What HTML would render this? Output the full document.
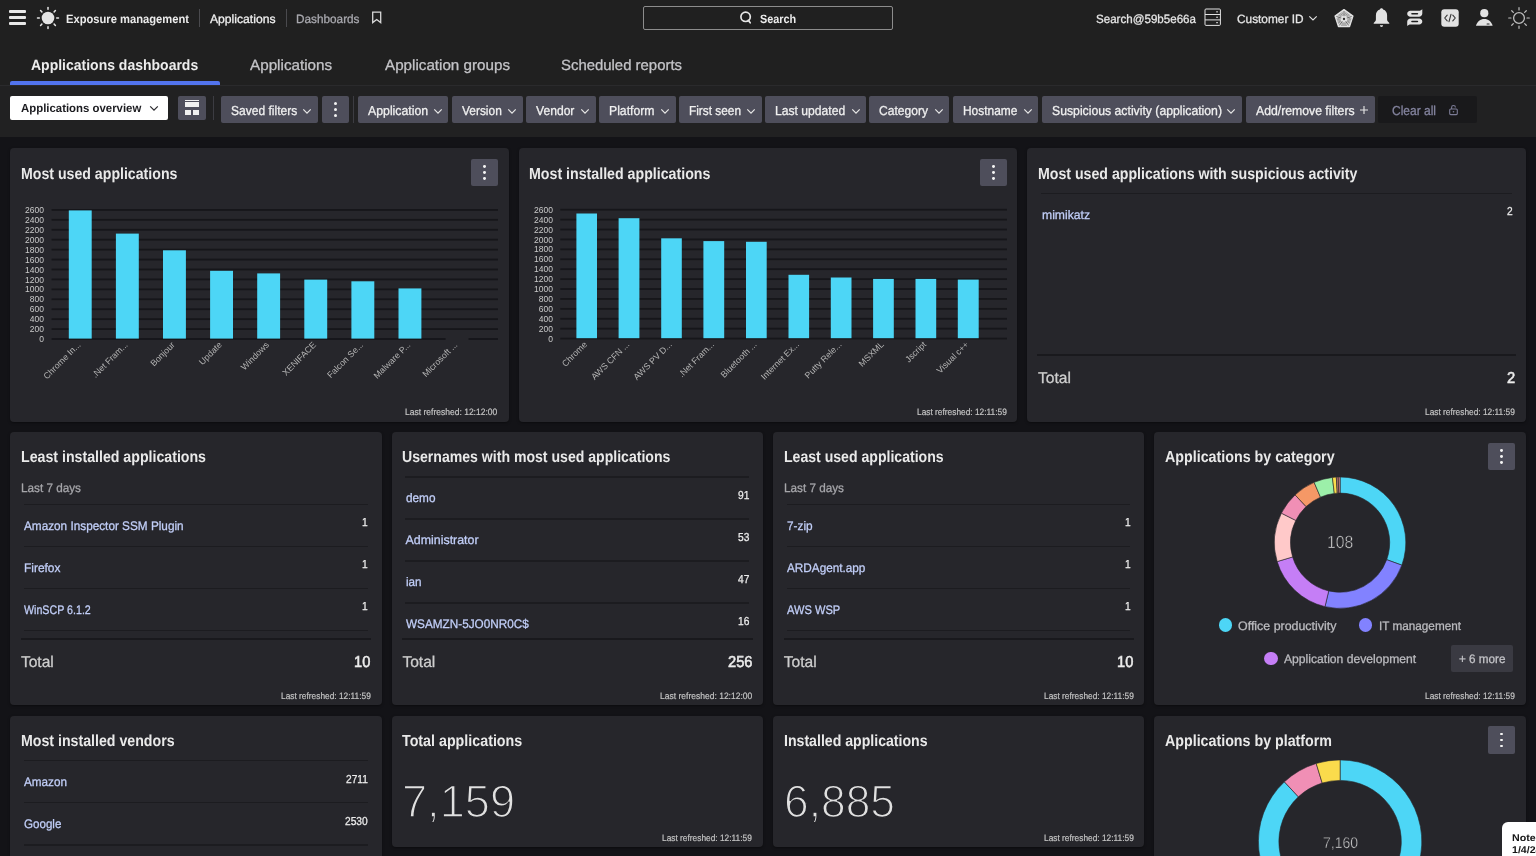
<!DOCTYPE html>
<html lang="en"><head><meta charset="utf-8"><title>Applications dashboards</title>
<style>html,body{margin:0;padding:0}body{width:1536px;height:856px;overflow:hidden;position:relative;background:#131317;font-family:"Liberation Sans", sans-serif;}#r{position:absolute;left:0;top:0;width:1536px;height:856px;overflow:hidden;will-change:transform}#r>div,#r>svg{position:absolute}.t{position:absolute;white-space:pre;line-height:1;transform-origin:0 0;text-rendering:geometricPrecision}</style></head>
<body><div id="r">
<div style="left:0px;top:0px;width:1536px;height:86px;background:#202020;"></div>
<div style="left:0px;top:85px;width:1536px;height:1px;background:#2a2a2c;"></div>
<div style="left:0px;top:86px;width:1536px;height:51.4px;background:#212122;"></div>
<div style="left:8.6px;top:10.2px;width:17.2px;height:3.1px;background:#e8e8e8;border-radius:1px;"></div>
<div style="left:8.6px;top:16.2px;width:17.2px;height:3.1px;background:#e8e8e8;border-radius:1px;"></div>
<div style="left:8.6px;top:22.3px;width:17.2px;height:3.1px;background:#e8e8e8;border-radius:1px;"></div>
<svg style="left:35.8px;top:6.3px" width="24" height="24" viewBox="0 0 24 24"><circle cx="12" cy="12" r="6.3" fill="#e4e4e4"/><g stroke="#e4e4e4" stroke-width="1.5" stroke-linecap="round"><line x1="20.70" y1="12.00" x2="22.50" y2="12.00"/><line x1="18.15" y1="18.15" x2="19.42" y2="19.42"/><line x1="12.00" y1="20.70" x2="12.00" y2="22.50"/><line x1="5.85" y1="18.15" x2="4.58" y2="19.42"/><line x1="3.30" y1="12.00" x2="1.50" y2="12.00"/><line x1="5.85" y1="5.85" x2="4.58" y2="4.58"/><line x1="12.00" y1="3.30" x2="12.00" y2="1.50"/><line x1="18.15" y1="5.85" x2="19.42" y2="4.58"/></g></svg>
<div style="left:198.8px;top:8.6px;width:1px;height:18.8px;background:#4a4a4e;"></div>
<div style="left:285.5px;top:8.6px;width:1px;height:18.8px;background:#4a4a4e;"></div>
<svg style="left:370.6px;top:11px" width="12" height="14" viewBox="0 0 12 14"><path d="M1.7 1.2h8v10.4L5.7 8.6l-4 3z" fill="none" stroke="#d8d8d8" stroke-width="1.3" stroke-linejoin="miter"/></svg>
<div style="left:643px;top:6px;width:248px;height:22px;border:1px solid #8c8c8c;border-radius:2px"></div>
<svg style="left:738px;top:9px" width="16" height="16" viewBox="0 0 16 16"><circle cx="7.6" cy="7.8" r="4.7" fill="none" stroke="#e6e6e6" stroke-width="1.7"/><path d="M10.3 11.2l1.9 2.6" stroke="#e6e6e6" stroke-width="1.7" stroke-linecap="round"/></svg>
<div style="left:10px;top:81px;width:209.5px;height:4px;background:#5274ee;border-radius:2px;border-radius:2px 2px 0 0;"></div>
<div style="left:10px;top:96px;width:158px;height:24px;background:#ffffff;border-radius:2px;"></div>
<svg style="left:149px;top:105px" width="10" height="7" viewBox="0 0 10 7"><path d="M1.2 1.4L5 5.2l3.8-3.8" fill="none" stroke="#2a2a2e" stroke-width="1.2"/></svg>
<div style="left:178px;top:96px;width:28px;height:24px;background:#4e4e5b;border-radius:2px;"></div>
<div style="left:185.1px;top:99.8px;width:14.1px;height:7.4px;background:#f0f0f0;"></div>
<div style="left:185.1px;top:101.3px;width:14.1px;height:0.8px;background:#4e4e5b;"></div>
<div style="left:185.1px;top:109.6px;width:5.9px;height:5.8px;background:#f0f0f0;"></div>
<div style="left:193.3px;top:109.6px;width:5.9px;height:5.8px;background:#f0f0f0;"></div>
<div style="left:213px;top:96px;width:1px;height:24px;background:#3c3c42;"></div>
<div style="left:353px;top:96px;width:1px;height:27px;background:#3c3c42;"></div>
<div style="left:221.3px;top:96px;width:96.5px;height:27.3px;background:#4e4e5b;border-radius:2px;"></div>
<svg style="left:302.3px;top:107.6px" width="10" height="7" viewBox="0 0 10 7"><path d="M1.3 1.4L5 5.1l3.7-3.7" fill="none" stroke="#e8e8e8" stroke-width="1.2"/></svg>
<div style="left:357.5px;top:96px;width:90.89999999999998px;height:27.3px;background:#4e4e5b;border-radius:2px;"></div>
<svg style="left:432.9px;top:107.6px" width="10" height="7" viewBox="0 0 10 7"><path d="M1.3 1.4L5 5.1l3.7-3.7" fill="none" stroke="#e8e8e8" stroke-width="1.2"/></svg>
<div style="left:452.2px;top:96px;width:70.59999999999997px;height:27.3px;background:#4e4e5b;border-radius:2px;"></div>
<svg style="left:507.29999999999995px;top:107.6px" width="10" height="7" viewBox="0 0 10 7"><path d="M1.3 1.4L5 5.1l3.7-3.7" fill="none" stroke="#e8e8e8" stroke-width="1.2"/></svg>
<div style="left:526.3px;top:96px;width:69.30000000000007px;height:27.3px;background:#4e4e5b;border-radius:2px;"></div>
<svg style="left:580.1px;top:107.6px" width="10" height="7" viewBox="0 0 10 7"><path d="M1.3 1.4L5 5.1l3.7-3.7" fill="none" stroke="#e8e8e8" stroke-width="1.2"/></svg>
<div style="left:599px;top:96px;width:76.60000000000002px;height:27.3px;background:#4e4e5b;border-radius:2px;"></div>
<svg style="left:660.1px;top:107.6px" width="10" height="7" viewBox="0 0 10 7"><path d="M1.3 1.4L5 5.1l3.7-3.7" fill="none" stroke="#e8e8e8" stroke-width="1.2"/></svg>
<div style="left:678.7px;top:96px;width:82.89999999999998px;height:27.3px;background:#4e4e5b;border-radius:2px;"></div>
<svg style="left:746.1px;top:107.6px" width="10" height="7" viewBox="0 0 10 7"><path d="M1.3 1.4L5 5.1l3.7-3.7" fill="none" stroke="#e8e8e8" stroke-width="1.2"/></svg>
<div style="left:765px;top:96px;width:101.20000000000005px;height:27.3px;background:#4e4e5b;border-radius:2px;"></div>
<svg style="left:850.7px;top:107.6px" width="10" height="7" viewBox="0 0 10 7"><path d="M1.3 1.4L5 5.1l3.7-3.7" fill="none" stroke="#e8e8e8" stroke-width="1.2"/></svg>
<div style="left:869.4px;top:96px;width:80.0px;height:27.3px;background:#4e4e5b;border-radius:2px;"></div>
<svg style="left:933.9px;top:107.6px" width="10" height="7" viewBox="0 0 10 7"><path d="M1.3 1.4L5 5.1l3.7-3.7" fill="none" stroke="#e8e8e8" stroke-width="1.2"/></svg>
<div style="left:952.8px;top:96px;width:85.20000000000005px;height:27.3px;background:#4e4e5b;border-radius:2px;"></div>
<svg style="left:1022.5px;top:107.6px" width="10" height="7" viewBox="0 0 10 7"><path d="M1.3 1.4L5 5.1l3.7-3.7" fill="none" stroke="#e8e8e8" stroke-width="1.2"/></svg>
<div style="left:1041.5px;top:96px;width:200.4000000000001px;height:27.3px;background:#4e4e5b;border-radius:2px;"></div>
<svg style="left:1226.4px;top:107.6px" width="10" height="7" viewBox="0 0 10 7"><path d="M1.3 1.4L5 5.1l3.7-3.7" fill="none" stroke="#e8e8e8" stroke-width="1.2"/></svg>
<div style="left:321.8px;top:96px;width:27.1px;height:27.3px;background:#4e4e5b;border-radius:2px;"></div>
<div style="left:333.6px;top:102.4px;width:3px;height:3px;background:#f2f2f2;border-radius:1.5px;"></div>
<div style="left:333.6px;top:108.3px;width:3px;height:3px;background:#f2f2f2;border-radius:1.5px;"></div>
<div style="left:333.6px;top:114.2px;width:3px;height:3px;background:#f2f2f2;border-radius:1.5px;"></div>
<div style="left:1245.6px;top:96px;width:129.1px;height:27.3px;background:#4e4e5b;border-radius:2px;"></div>
<svg style="left:1359px;top:104.5px" width="10" height="10" viewBox="0 0 10 10"><path d="M5 1v8M1 5h8" stroke="#e8e8e8" stroke-width="1.1"/></svg>
<div style="left:1377.8px;top:96px;width:99.7px;height:27.3px;background:#19191b;border-radius:2px;"></div>
<svg style="left:1448px;top:103.5px" width="11" height="12" viewBox="0 0 11 12"><rect x="1.7" y="5" width="7.6" height="5.6" rx="1" fill="none" stroke="#7c7c96" stroke-width="1.1"/><path d="M3.6 5V3.4a1.9 1.9 0 0 1 3.8 0" fill="none" stroke="#7c7c96" stroke-width="1.1"/><circle cx="5.5" cy="7.8" r=".8" fill="#7c7c96"/></svg>
<svg style="left:1203.5px;top:7.8px" width="18" height="19" viewBox="0 0 18 19" fill="none" stroke="#e2e2e2" stroke-width="1"><rect x="1" y="1" width="15.4" height="16.4" rx="1"/><path d="M1 6.5h15.4M1 11.9h15.4"/><g fill="#e2e2e2" stroke="none"><rect x="12.2" y="3.3" width="1.7" height="1.1"/><rect x="12.2" y="8.7" width="1.7" height="1.1"/><rect x="12.2" y="14.1" width="1.7" height="1.1"/></g></svg>
<svg style="left:1308px;top:15px" width="10" height="7" viewBox="0 0 10 7"><path d="M1.3 1.3L5 5l3.7-3.7" fill="none" stroke="#e2e2e2" stroke-width="1.1"/></svg>
<svg style="left:1332px;top:6.9px" width="24" height="24" viewBox="0 0 24 24"><polygon points="12.00,2.60 20.94,9.10 17.53,19.60 6.47,19.60 3.06,9.10" fill="#e2e2e2" stroke="#e2e2e2" stroke-width="1.3" stroke-linejoin="round"/><g stroke="#2a2a2a" stroke-linecap="round"><line x1="12.00" y1="9.10" x2="12.00" y2="4.40" stroke-width=".75" opacity=".85"/><line x1="12.97" y1="7.81" x2="15.69" y2="9.79" stroke-width="0.7" opacity="0.55"/><line x1="13.26" y1="6.54" x2="16.80" y2="9.12" stroke-width="0.75" opacity="0.6"/><line x1="13.55" y1="5.28" x2="17.91" y2="8.45" stroke-width="0.7" opacity="0.5"/><line x1="14.76" y1="11.10" x2="19.23" y2="9.65" stroke-width=".75" opacity=".85"/><line x1="16.28" y1="11.63" x2="15.25" y2="14.82" stroke-width="0.7" opacity="0.55"/><line x1="17.58" y1="11.51" x2="16.23" y2="15.67" stroke-width="0.75" opacity="0.6"/><line x1="18.87" y1="11.40" x2="17.21" y2="16.53" stroke-width="0.7" opacity="0.5"/><line x1="13.70" y1="14.35" x2="16.47" y2="18.15" stroke-width=".75" opacity=".85"/><line x1="13.68" y1="15.96" x2="10.32" y2="15.96" stroke-width="0.7" opacity="0.55"/><line x1="14.19" y1="17.15" x2="9.81" y2="17.15" stroke-width="0.75" opacity="0.6"/><line x1="14.70" y1="18.35" x2="9.30" y2="18.35" stroke-width="0.7" opacity="0.5"/><line x1="10.30" y1="14.35" x2="7.53" y2="18.15" stroke-width=".75" opacity=".85"/><line x1="8.75" y1="14.82" x2="7.72" y2="11.63" stroke-width="0.7" opacity="0.55"/><line x1="7.77" y1="15.67" x2="6.42" y2="11.51" stroke-width="0.75" opacity="0.6"/><line x1="6.79" y1="16.53" x2="5.13" y2="11.40" stroke-width="0.7" opacity="0.5"/><line x1="9.24" y1="11.10" x2="4.77" y2="9.65" stroke-width=".75" opacity=".85"/><line x1="8.31" y1="9.79" x2="11.03" y2="7.81" stroke-width="0.7" opacity="0.55"/><line x1="7.20" y1="9.12" x2="10.74" y2="6.54" stroke-width="0.75" opacity="0.6"/><line x1="6.09" y1="8.45" x2="10.45" y2="5.28" stroke-width="0.7" opacity="0.5"/></g><circle cx="12" cy="12" r="2.7" fill="#e2e2e2"/><circle cx="12" cy="12" r="1.15" fill="#2c2c2c"/></svg>
<svg style="left:1372px;top:7px" width="19" height="22" viewBox="0 0 19 22"><path d="M9.5 1.2c.9 0 1.5.6 1.6 1.4 2.6.8 4 3 4 5.9v4.1c0 1.300.9 2.400 2.200 3.300v.8H1.700v-.8c1.300-.9 2.200-2 2.200-3.300V8.500c0-2.900 1.400-5.100 4-5.900.1-.8.700-1.400 1.600-1.400z" fill="#e2e2e2"/><path d="M7.900 18.300h3.200a1.600 1.600 0 0 1-3.200 0z" fill="#e2e2e2"/></svg>
<svg style="left:1406.2px;top:9.2px" width="17.6" height="17.2" viewBox="0 0 19 19" preserveAspectRatio="none" fill="#e2e2e2"><path d="M4.600 1.900h9.300c1.500 0 2.900-.7 3.700-1.700v4.700c0 2-1.600 3.600-3.600 3.600H4.600C2.800 8.500 1.300 7 1.300 5.200S2.800 1.900 4.600 1.900z"/><path d="M5 10.500h9.300c1.800 0 3.300 1.500 3.300 3.300s-1.500 3.300-3.300 3.300H5c-1.500 0-2.900.7-3.700 1.700v-4.700c0-2 1.600-3.600 3.700-3.600z"/><rect x="5.600" y="4.300" width="7.600" height="1.800" rx=".9" fill="#202020"/><rect x="5.600" y="12.900" width="7.600" height="1.800" rx=".9" fill="#202020"/></svg>
<svg style="left:1441px;top:9px" width="18" height="18" viewBox="0 0 18 18"><rect x=".3" y=".3" width="17.400" height="17.400" rx="3" fill="#e2e2e2"/><path d="M6.200 6.200L3.700 9l2.500 2.800M11.800 6.200L14.300 9l-2.500 2.800M10 5.400L8 12.600" fill="none" stroke="#333" stroke-width="1.100" stroke-linecap="round" stroke-linejoin="round"/></svg>
<svg style="left:1474.6px;top:8.4px" width="18.6" height="19" viewBox="0 0 19 20" fill="#e2e2e2"><circle cx="9.500" cy="5.400" r="4.300"/><path d="M.7 18.800c1.300-4.700 4.700-7.200 8.800-7.200s7.500 2.500 8.800 7.200z"/><rect x="11.800" y="16.300" width="3.400" height="1.100" rx=".5" fill="#202020"/></svg>
<svg style="left:1506.500px;top:6px" width="24" height="24" viewBox="0 0 24 24" fill="none" stroke="#bdbdbd"><circle cx="12" cy="12" r="5.400" stroke-width="1.300"/><g stroke-width="1.200" stroke-linecap="round"><line x1="20.00" y1="12.00" x2="22.30" y2="12.00"/><line x1="17.66" y1="17.66" x2="19.28" y2="19.28"/><line x1="12.00" y1="20.00" x2="12.00" y2="22.30"/><line x1="6.34" y1="17.66" x2="4.72" y2="19.28"/><line x1="4.00" y1="12.00" x2="1.70" y2="12.00"/><line x1="6.34" y1="6.34" x2="4.72" y2="4.72"/><line x1="12.00" y1="4.00" x2="12.00" y2="1.70"/><line x1="17.66" y1="6.34" x2="19.28" y2="4.72"/></g></svg>
<div style="left:10.3px;top:148.2px;width:498.5px;height:273.4px;background:#26262b;border-radius:4px;box-shadow:0 1px 2.5px rgba(0,0,0,.4);"></div>
<div style="left:518.8px;top:148.2px;width:498.5px;height:273.4px;background:#26262b;border-radius:4px;box-shadow:0 1px 2.5px rgba(0,0,0,.4);"></div>
<div style="left:1027.3px;top:148.2px;width:498.5px;height:273.4px;background:#26262b;border-radius:4px;box-shadow:0 1px 2.5px rgba(0,0,0,.4);"></div>
<div style="left:470.9px;top:158.6px;width:27.2px;height:27.3px;background:#4e4e5b;border-radius:2px;"></div>
<div style="left:483.09999999999997px;top:164.9px;width:2.9px;height:2.9px;background:#f4f4f4;border-radius:1.45px;"></div>
<div style="left:483.09999999999997px;top:170.85px;width:2.9px;height:2.9px;background:#f4f4f4;border-radius:1.45px;"></div>
<div style="left:483.09999999999997px;top:176.79999999999998px;width:2.9px;height:2.9px;background:#f4f4f4;border-radius:1.45px;"></div>
<svg style="left:0;top:190px" width="1536" height="235" viewBox="0 190 1536 235"><rect x="51.6" y="209.00" width="446.4" height="1.8" fill="#16161a"/><rect x="51.6" y="218.93" width="446.4" height="1.8" fill="#16161a"/><rect x="51.6" y="228.86" width="446.4" height="1.8" fill="#16161a"/><rect x="51.6" y="238.79" width="446.4" height="1.8" fill="#16161a"/><rect x="51.6" y="248.72" width="446.4" height="1.8" fill="#16161a"/><rect x="51.6" y="258.65" width="446.4" height="1.8" fill="#16161a"/><rect x="51.6" y="268.58" width="446.4" height="1.8" fill="#16161a"/><rect x="51.6" y="278.52" width="446.4" height="1.8" fill="#16161a"/><rect x="51.6" y="288.45" width="446.4" height="1.8" fill="#16161a"/><rect x="51.6" y="298.38" width="446.4" height="1.8" fill="#16161a"/><rect x="51.6" y="308.31" width="446.4" height="1.8" fill="#16161a"/><rect x="51.6" y="318.24" width="446.4" height="1.8" fill="#16161a"/><rect x="51.6" y="328.17" width="446.4" height="1.8" fill="#16161a"/><rect x="51.6" y="338.10" width="446.4" height="1.8" fill="#16161a"/><rect x="68.8" y="210.4" width="22.90" height="128.20" fill="#4dd6f6"/><rect x="115.9" y="233.6" width="22.90" height="105.00" fill="#4dd6f6"/><rect x="163" y="250.3" width="22.90" height="88.30" fill="#4dd6f6"/><rect x="210.1" y="270.8" width="22.90" height="67.80" fill="#4dd6f6"/><rect x="257.2" y="273.4" width="22.90" height="65.20" fill="#4dd6f6"/><rect x="304.3" y="279.6" width="22.90" height="59.00" fill="#4dd6f6"/><rect x="351.4" y="281.3" width="22.90" height="57.30" fill="#4dd6f6"/><rect x="398.5" y="288.4" width="22.90" height="50.20" fill="#4dd6f6"/><rect x="445.6" y="338.00" width="22.90" height="2" fill="#26262b"/><g font-family="Liberation Sans, sans-serif" font-size="8.5" fill="#c9c9c9" text-anchor="end"><text x="43.9" y="213.00">2600</text><text x="43.9" y="222.93">2400</text><text x="43.9" y="232.86">2200</text><text x="43.9" y="242.79">2000</text><text x="43.9" y="252.72">1800</text><text x="43.9" y="262.65">1600</text><text x="43.9" y="272.58">1400</text><text x="43.9" y="282.52">1200</text><text x="43.9" y="292.45">1000</text><text x="43.9" y="302.38">800</text><text x="43.9" y="312.31">600</text><text x="43.9" y="322.24">400</text><text x="43.9" y="332.17">200</text><text x="43.9" y="342.10">0</text></g><g font-family="Liberation Sans, sans-serif" font-size="8.8" fill="#b4b4b4" text-anchor="end"><text transform="translate(81.25,345.40) rotate(-45)">Chrome In...</text><text transform="translate(128.35,345.40) rotate(-45)">.Net Fram...</text><text transform="translate(175.45,345.40) rotate(-45)">Bonjour</text><text transform="translate(222.55,345.40) rotate(-45)">Update</text><text transform="translate(269.65,345.40) rotate(-45)">Windows</text><text transform="translate(316.75,345.40) rotate(-45)">XENIFACE</text><text transform="translate(363.85,345.40) rotate(-45)">Falcon Se...</text><text transform="translate(410.95,345.40) rotate(-45)">Malware P...</text><text transform="translate(458.05,345.40) rotate(-45)">Microsoft ...</text></g></svg>
<div style="left:979.7px;top:158.6px;width:27.2px;height:27.3px;background:#4e4e5b;border-radius:2px;"></div>
<div style="left:991.9000000000001px;top:164.9px;width:2.9px;height:2.9px;background:#f4f4f4;border-radius:1.45px;"></div>
<div style="left:991.9000000000001px;top:170.85px;width:2.9px;height:2.9px;background:#f4f4f4;border-radius:1.45px;"></div>
<div style="left:991.9000000000001px;top:176.79999999999998px;width:2.9px;height:2.9px;background:#f4f4f4;border-radius:1.45px;"></div>
<svg style="left:0;top:190px" width="1536" height="235" viewBox="0 190 1536 235"><rect x="560.3" y="208.80" width="446.70000000000005" height="1.8" fill="#16161a"/><rect x="560.3" y="218.72" width="446.70000000000005" height="1.8" fill="#16161a"/><rect x="560.3" y="228.63" width="446.70000000000005" height="1.8" fill="#16161a"/><rect x="560.3" y="238.55" width="446.70000000000005" height="1.8" fill="#16161a"/><rect x="560.3" y="248.46" width="446.70000000000005" height="1.8" fill="#16161a"/><rect x="560.3" y="258.38" width="446.70000000000005" height="1.8" fill="#16161a"/><rect x="560.3" y="268.29" width="446.70000000000005" height="1.8" fill="#16161a"/><rect x="560.3" y="278.21" width="446.70000000000005" height="1.8" fill="#16161a"/><rect x="560.3" y="288.12" width="446.70000000000005" height="1.8" fill="#16161a"/><rect x="560.3" y="298.04" width="446.70000000000005" height="1.8" fill="#16161a"/><rect x="560.3" y="307.95" width="446.70000000000005" height="1.8" fill="#16161a"/><rect x="560.3" y="317.87" width="446.70000000000005" height="1.8" fill="#16161a"/><rect x="560.3" y="327.78" width="446.70000000000005" height="1.8" fill="#16161a"/><rect x="560.3" y="337.70" width="446.70000000000005" height="1.8" fill="#16161a"/><rect x="576.4" y="213.5" width="20.60" height="124.70" fill="#4dd6f6"/><rect x="618.6" y="218.2" width="20.80" height="120.00" fill="#4dd6f6"/><rect x="661.2" y="238.3" width="20.60" height="99.90" fill="#4dd6f6"/><rect x="703.4" y="241.1" width="20.80" height="97.10" fill="#4dd6f6"/><rect x="746" y="241.8" width="20.70" height="96.40" fill="#4dd6f6"/><rect x="788.5" y="274.8" width="20.60" height="63.40" fill="#4dd6f6"/><rect x="830.8" y="277.5" width="20.70" height="60.70" fill="#4dd6f6"/><rect x="873.1" y="278.9" width="20.70" height="59.30" fill="#4dd6f6"/><rect x="915.5" y="278.9" width="20.70" height="59.30" fill="#4dd6f6"/><rect x="957.8" y="279.6" width="20.90" height="58.60" fill="#4dd6f6"/><g font-family="Liberation Sans, sans-serif" font-size="8.5" fill="#c9c9c9" text-anchor="end"><text x="552.9" y="212.80">2600</text><text x="552.9" y="222.72">2400</text><text x="552.9" y="232.63">2200</text><text x="552.9" y="242.55">2000</text><text x="552.9" y="252.46">1800</text><text x="552.9" y="262.38">1600</text><text x="552.9" y="272.29">1400</text><text x="552.9" y="282.21">1200</text><text x="552.9" y="292.12">1000</text><text x="552.9" y="302.04">800</text><text x="552.9" y="311.95">600</text><text x="552.9" y="321.87">400</text><text x="552.9" y="331.78">200</text><text x="552.9" y="341.70">0</text></g><g font-family="Liberation Sans, sans-serif" font-size="8.8" fill="#b4b4b4" text-anchor="end"><text transform="translate(587.70,345.00) rotate(-45)">Chrome</text><text transform="translate(630.00,345.00) rotate(-45)">AWS CFN ...</text><text transform="translate(672.50,345.00) rotate(-45)">AWS PV D...</text><text transform="translate(714.80,345.00) rotate(-45)">.Net Fram...</text><text transform="translate(757.35,345.00) rotate(-45)">Bluetooth ...</text><text transform="translate(799.80,345.00) rotate(-45)">Internet Ex...</text><text transform="translate(842.15,345.00) rotate(-45)">Putty Rele...</text><text transform="translate(884.45,345.00) rotate(-45)">MSXML</text><text transform="translate(926.85,345.00) rotate(-45)">Jscript</text><text transform="translate(969.25,345.00) rotate(-45)">Visual c++</text></g></svg>
<div style="left:1040.7px;top:193px;width:471.6px;height:1.4px;background:#1c1c20;"></div>
<div style="left:1037.3px;top:354.2px;width:478.4px;height:2px;background:#19191d;"></div>
<div style="left:10.3px;top:432.1px;width:371.3px;height:273.4px;background:#26262b;border-radius:4px;box-shadow:0 1px 2.5px rgba(0,0,0,.4);"></div>
<div style="left:23.8px;top:504.1px;width:343.8px;height:1.4px;background:#1c1c20;"></div>
<div style="left:23.8px;top:546.0999999999999px;width:343.8px;height:1.4px;background:#1c1c20;"></div>
<div style="left:23.8px;top:588.0999999999999px;width:343.8px;height:1.4px;background:#1c1c20;"></div>
<div style="left:23.8px;top:630.0999999999999px;width:343.8px;height:1.4px;background:#1c1c20;"></div>
<div style="left:20.700000000000003px;top:638.4px;width:350.6px;height:2px;background:#19191d;"></div>
<div style="left:391.6px;top:432.1px;width:371.3px;height:273.4px;background:#26262b;border-radius:4px;box-shadow:0 1px 2.5px rgba(0,0,0,.4);"></div>
<div style="left:405.3px;top:476.40000000000003px;width:343.8px;height:1.4px;background:#1c1c20;"></div>
<div style="left:405.3px;top:518.4px;width:343.8px;height:1.4px;background:#1c1c20;"></div>
<div style="left:405.3px;top:560.4px;width:343.8px;height:1.4px;background:#1c1c20;"></div>
<div style="left:405.3px;top:602.4px;width:343.8px;height:1.4px;background:#1c1c20;"></div>
<div style="left:402.2px;top:638.4px;width:350.6px;height:2px;background:#19191d;"></div>
<div style="left:773px;top:432.1px;width:371.3px;height:273.4px;background:#26262b;border-radius:4px;box-shadow:0 1px 2.5px rgba(0,0,0,.4);"></div>
<div style="left:786.7px;top:504.1px;width:343.8px;height:1.4px;background:#1c1c20;"></div>
<div style="left:786.7px;top:546.0999999999999px;width:343.8px;height:1.4px;background:#1c1c20;"></div>
<div style="left:786.7px;top:588.0999999999999px;width:343.8px;height:1.4px;background:#1c1c20;"></div>
<div style="left:786.7px;top:630.0999999999999px;width:343.8px;height:1.4px;background:#1c1c20;"></div>
<div style="left:783.6px;top:638.4px;width:350.6px;height:2px;background:#19191d;"></div>
<div style="left:1154.4px;top:432.1px;width:371.3px;height:273.4px;background:#26262b;border-radius:4px;box-shadow:0 1px 2.5px rgba(0,0,0,.4);"></div>
<div style="left:1488px;top:442.6px;width:27.2px;height:27.3px;background:#4e4e5b;border-radius:2px;"></div>
<div style="left:1500.2px;top:448.90000000000003px;width:2.9px;height:2.9px;background:#f4f4f4;border-radius:1.45px;"></div>
<div style="left:1500.2px;top:454.85px;width:2.9px;height:2.9px;background:#f4f4f4;border-radius:1.45px;"></div>
<div style="left:1500.2px;top:460.8px;width:2.9px;height:2.9px;background:#f4f4f4;border-radius:1.45px;"></div>
<svg style="left:1264px;top:466px" width="152" height="152" viewBox="1264 466 152 152"><path d="M1340.10 477.00A65.7 65.7 0 0 1 1401.84 565.17L1386.71 559.66A49.6 49.6 0 0 0 1340.10 493.10Z" fill="#4dd6f6" stroke="#26262b" stroke-width="0.6"/><path d="M1401.84 565.17A65.7 65.7 0 0 1 1324.99 606.64L1328.69 590.97A49.6 49.6 0 0 0 1386.71 559.66Z" fill="#8282ff" stroke="#26262b" stroke-width="0.6"/><path d="M1324.99 606.64A65.7 65.7 0 0 1 1277.17 561.58L1292.59 556.95A49.6 49.6 0 0 0 1328.69 590.97Z" fill="#c57ef6" stroke="#26262b" stroke-width="0.6"/><path d="M1277.17 561.58A65.7 65.7 0 0 1 1281.41 513.18L1295.79 520.41A49.6 49.6 0 0 0 1292.59 556.95Z" fill="#ffc9c9" stroke="#26262b" stroke-width="0.6"/><path d="M1281.41 513.18A65.7 65.7 0 0 1 1295.04 494.89L1306.08 506.60A49.6 49.6 0 0 0 1295.79 520.41Z" fill="#f08fb5" stroke="#26262b" stroke-width="0.6"/><path d="M1295.04 494.89A65.7 65.7 0 0 1 1314.11 482.36L1320.48 497.15A49.6 49.6 0 0 0 1306.08 506.60Z" fill="#f59866" stroke="#26262b" stroke-width="0.6"/><path d="M1314.11 482.36A65.7 65.7 0 0 1 1332.43 477.45L1334.31 493.44A49.6 49.6 0 0 0 1320.48 497.15Z" fill="#9cefa9" stroke="#26262b" stroke-width="0.6"/><path d="M1332.43 477.45A65.7 65.7 0 0 1 1336.32 477.11L1337.24 493.18A49.6 49.6 0 0 0 1334.31 493.44Z" fill="#fadb4c" stroke="#26262b" stroke-width="0.6"/><path d="M1336.32 477.11A65.7 65.7 0 0 1 1338.27 477.03L1338.72 493.12A49.6 49.6 0 0 0 1337.24 493.18Z" fill="#b9766c" stroke="#26262b" stroke-width="0.6"/><path d="M1338.27 477.03A65.7 65.7 0 0 1 1340.10 477.00L1340.10 493.10A49.6 49.6 0 0 0 1338.72 493.12Z" fill="#d98a8a" stroke="#26262b" stroke-width="0.6"/></svg>
<div style="left:1218.9px;top:618.4000000000001px;width:13.6px;height:13.6px;background:#4dd6f6;border-radius:6.8px;"></div>
<div style="left:1358.8px;top:618.4000000000001px;width:13.6px;height:13.6px;background:#8282ff;border-radius:6.8px;"></div>
<div style="left:1264.3px;top:651.6px;width:13.6px;height:13.6px;background:#c57ef6;border-radius:6.8px;"></div>
<div style="left:1451.3px;top:644.6px;width:61.3px;height:27px;background:#3a3a42;border-radius:2px;"></div>
<div style="left:10.3px;top:716px;width:371.3px;height:160px;background:#26262b;border-radius:4px;box-shadow:0 1px 2.5px rgba(0,0,0,.4);"></div>
<div style="left:23.8px;top:759.8px;width:343.8px;height:1.4px;background:#1c1c20;"></div>
<div style="left:23.8px;top:802.0px;width:343.8px;height:1.4px;background:#1c1c20;"></div>
<div style="left:23.8px;top:844.2px;width:343.8px;height:1.4px;background:#1c1c20;"></div>
<div style="left:391.6px;top:716px;width:371.3px;height:131.2px;background:#26262b;border-radius:4px;box-shadow:0 1px 2.5px rgba(0,0,0,.4);"></div>
<div style="left:773px;top:716px;width:371.3px;height:131.2px;background:#26262b;border-radius:4px;box-shadow:0 1px 2.5px rgba(0,0,0,.4);"></div>
<div style="left:1154.4px;top:716px;width:371.3px;height:160px;background:#26262b;border-radius:4px;box-shadow:0 1px 2.5px rgba(0,0,0,.4);"></div>
<div style="left:1488px;top:726.3px;width:27.2px;height:27.3px;background:#4e4e5b;border-radius:2px;"></div>
<div style="left:1500.2px;top:732.5999999999999px;width:2.9px;height:2.9px;background:#f4f4f4;border-radius:1.45px;"></div>
<div style="left:1500.2px;top:738.55px;width:2.9px;height:2.9px;background:#f4f4f4;border-radius:1.45px;"></div>
<div style="left:1500.2px;top:744.5px;width:2.9px;height:2.9px;background:#f4f4f4;border-radius:1.45px;"></div>
<svg style="left:1250px;top:755px" width="182" height="101" viewBox="1250 755 182 101"><path d="M1340.10 759.90A81.7 81.7 0 1 1 1284.38 781.85L1298.36 796.84A61.2 61.2 0 1 0 1340.10 780.40Z" fill="#4dd6f6" stroke="#26262b" stroke-width="0.6"/><path d="M1284.38 781.85A81.7 81.7 0 0 1 1316.21 763.47L1322.21 783.07A61.2 61.2 0 0 0 1298.36 796.84Z" fill="#f08fb5" stroke="#26262b" stroke-width="0.6"/><path d="M1316.21 763.47A81.7 81.7 0 0 1 1340.10 759.90L1340.10 780.40A61.2 61.2 0 0 0 1322.21 783.07Z" fill="#fadb4c" stroke="#26262b" stroke-width="0.6"/></svg>
<div style="left:1502px;top:821.5px;width:40px;height:40px;background:#ffffff;border-radius:6px;"></div>
<span class="t" style="left:65.60px;top:13.00px;font-size:12px;font-weight:700;color:#ececec;transform:scaleX(0.9315);">Exposure management</span>
<span class="t" style="left:209.80px;top:13.00px;font-size:12px;font-weight:400;color:#f0f0f0;transform:scaleX(1.0121);-webkit-text-stroke:0.28px;">Applications</span>
<span class="t" style="left:296.00px;top:13.00px;font-size:12px;font-weight:400;color:#a8a8ae;transform:scaleX(0.9812);-webkit-text-stroke:0.28px;">Dashboards</span>
<span class="t" style="left:760.00px;top:13.00px;font-size:12px;font-weight:700;color:#ececec;transform:scaleX(0.9043);">Search</span>
<span class="t" style="left:1095.50px;top:13.00px;font-size:12px;font-weight:400;color:#e6e6e6;transform:scaleX(0.9653);-webkit-text-stroke:0.28px;">Search@59b5e66a</span>
<span class="t" style="left:1236.50px;top:13.00px;font-size:12px;font-weight:400;color:#e6e6e6;transform:scaleX(0.9872);-webkit-text-stroke:0.28px;">Customer ID</span>
<span class="t" style="left:31.20px;top:59.40px;font-size:14.8px;font-weight:700;color:#ededed;transform:scaleX(0.9458);">Applications dashboards</span>
<span class="t" style="left:250.30px;top:59.40px;font-size:14.8px;font-weight:400;color:#c4c4c8;transform:scaleX(1.0301);-webkit-text-stroke:0.28px;">Applications</span>
<span class="t" style="left:384.70px;top:59.40px;font-size:14.8px;font-weight:400;color:#c4c4c8;transform:scaleX(1.0267);-webkit-text-stroke:0.28px;">Application groups</span>
<span class="t" style="left:561.20px;top:59.40px;font-size:14.8px;font-weight:400;color:#c4c4c8;transform:scaleX(1.0074);-webkit-text-stroke:0.28px;">Scheduled reports</span>
<span class="t" style="left:20.70px;top:103.20px;font-size:11.7px;font-weight:700;color:#1c1c20;transform:scaleX(0.9748);">Applications overview</span>
<span class="t" style="left:231.30px;top:104.00px;font-size:13px;font-weight:400;color:#f0f0f0;transform:scaleX(0.9253);-webkit-text-stroke:0.28px;">Saved filters</span>
<span class="t" style="left:367.50px;top:104.00px;font-size:13px;font-weight:400;color:#f0f0f0;transform:scaleX(0.9464);-webkit-text-stroke:0.28px;">Application</span>
<span class="t" style="left:462.20px;top:104.00px;font-size:13px;font-weight:400;color:#f0f0f0;transform:scaleX(0.9176);-webkit-text-stroke:0.28px;">Version</span>
<span class="t" style="left:536.30px;top:104.00px;font-size:13px;font-weight:400;color:#f0f0f0;transform:scaleX(0.9320);-webkit-text-stroke:0.28px;">Vendor</span>
<span class="t" style="left:609.00px;top:104.00px;font-size:13px;font-weight:400;color:#f0f0f0;transform:scaleX(0.9400);-webkit-text-stroke:0.28px;">Platform</span>
<span class="t" style="left:688.70px;top:104.00px;font-size:13px;font-weight:400;color:#f0f0f0;transform:scaleX(0.9110);-webkit-text-stroke:0.28px;">First seen</span>
<span class="t" style="left:775.00px;top:104.00px;font-size:13px;font-weight:400;color:#f0f0f0;transform:scaleX(0.9337);-webkit-text-stroke:0.28px;">Last updated</span>
<span class="t" style="left:879.40px;top:104.00px;font-size:13px;font-weight:400;color:#f0f0f0;transform:scaleX(0.9289);-webkit-text-stroke:0.28px;">Category</span>
<span class="t" style="left:962.80px;top:104.00px;font-size:13px;font-weight:400;color:#f0f0f0;transform:scaleX(0.9181);-webkit-text-stroke:0.28px;">Hostname</span>
<span class="t" style="left:1051.50px;top:104.00px;font-size:13px;font-weight:400;color:#f0f0f0;transform:scaleX(0.9411);-webkit-text-stroke:0.28px;">Suspicious activity (application)</span>
<span class="t" style="left:1255.60px;top:104.00px;font-size:13px;font-weight:400;color:#f0f0f0;transform:scaleX(0.9411);-webkit-text-stroke:0.28px;">Add/remove filters</span>
<span class="t" style="left:1391.80px;top:104.00px;font-size:13px;font-weight:400;color:#8585a0;transform:scaleX(0.9227);-webkit-text-stroke:0.28px;">Clear all</span>
<span class="t" style="left:20.80px;top:166.80px;font-size:16px;font-weight:700;color:#e9e9e9;transform:scaleX(0.8840);">Most used applications</span>
<span class="t" style="left:405.40px;top:408.00px;font-size:9.2px;font-weight:400;color:#c4c4c4;transform:scaleX(0.9266);-webkit-text-stroke:0.2px;">Last refreshed: 12:12:00</span>
<span class="t" style="left:529.40px;top:166.80px;font-size:16px;font-weight:700;color:#e9e9e9;transform:scaleX(0.8871);">Most installed applications</span>
<span class="t" style="left:916.90px;top:408.00px;font-size:9.2px;font-weight:400;color:#c4c4c4;transform:scaleX(0.9078);-webkit-text-stroke:0.2px;">Last refreshed: 12:11:59</span>
<span class="t" style="left:1038.00px;top:166.80px;font-size:16px;font-weight:700;color:#e9e9e9;transform:scaleX(0.8846);">Most used applications with suspicious activity</span>
<span class="t" style="left:1041.60px;top:208.80px;font-size:12.4px;font-weight:400;color:#c2cff9;transform:scaleX(0.9821);-webkit-text-stroke:0.28px;">mimikatz</span>
<span class="t" style="left:1506.72px;top:206.30px;font-size:11.6px;font-weight:400;color:#ececec;transform:scaleX(0.8800);-webkit-text-stroke:0.28px;">2</span>
<span class="t" style="left:1038.00px;top:371.20px;font-size:15.6px;font-weight:400;color:#cdcdcd;-webkit-text-stroke:0.28px;">Total</span>
<span class="t" style="left:1507.02px;top:371.20px;font-size:15.8px;font-weight:400;color:#ececec;transform:scaleX(0.9300);-webkit-text-stroke:0.55px;">2</span>
<span class="t" style="left:1425.30px;top:408.00px;font-size:9.2px;font-weight:400;color:#c4c4c4;transform:scaleX(0.9078);-webkit-text-stroke:0.2px;">Last refreshed: 12:11:59</span>
<span class="t" style="left:20.80px;top:450.30px;font-size:16px;font-weight:700;color:#e9e9e9;transform:scaleX(0.8854);">Least installed applications</span>
<span class="t" style="left:20.80px;top:482.10px;font-size:12.2px;font-weight:400;color:#a6a6aa;transform:scaleX(0.9624);-webkit-text-stroke:0.28px;">Last 7 days</span>
<span class="t" style="left:24.10px;top:519.90px;font-size:12.4px;font-weight:400;color:#c2cff9;transform:scaleX(0.9497);-webkit-text-stroke:0.28px;">Amazon Inspector SSM Plugin</span>
<span class="t" style="left:362.02px;top:517.00px;font-size:11.6px;font-weight:400;color:#ececec;transform:scaleX(0.8800);-webkit-text-stroke:0.28px;">1</span>
<span class="t" style="left:24.10px;top:561.90px;font-size:12.4px;font-weight:400;color:#c2cff9;transform:scaleX(0.9611);-webkit-text-stroke:0.28px;">Firefox</span>
<span class="t" style="left:362.02px;top:559.00px;font-size:11.6px;font-weight:400;color:#ececec;transform:scaleX(0.8800);-webkit-text-stroke:0.28px;">1</span>
<span class="t" style="left:24.10px;top:603.90px;font-size:12.4px;font-weight:400;color:#c2cff9;transform:scaleX(0.8609);-webkit-text-stroke:0.28px;">WinSCP 6.1.2</span>
<span class="t" style="left:362.02px;top:601.00px;font-size:11.6px;font-weight:400;color:#ececec;transform:scaleX(0.8800);-webkit-text-stroke:0.28px;">1</span>
<span class="t" style="left:20.90px;top:655.20px;font-size:15.6px;font-weight:400;color:#cdcdcd;-webkit-text-stroke:0.28px;">Total</span>
<span class="t" style="left:354.45px;top:655.20px;font-size:15.8px;font-weight:400;color:#ececec;transform:scaleX(0.9300);-webkit-text-stroke:0.55px;">10</span>
<span class="t" style="left:280.90px;top:692.00px;font-size:9.2px;font-weight:400;color:#c4c4c4;transform:scaleX(0.9078);-webkit-text-stroke:0.2px;">Last refreshed: 12:11:59</span>
<span class="t" style="left:402.30px;top:450.30px;font-size:16px;font-weight:700;color:#e9e9e9;transform:scaleX(0.8801);">Usernames with most used applications</span>
<span class="t" style="left:405.60px;top:492.20px;font-size:12.4px;font-weight:400;color:#c2cff9;transform:scaleX(0.9516);-webkit-text-stroke:0.28px;">demo</span>
<span class="t" style="left:737.84px;top:490.00px;font-size:11.6px;font-weight:400;color:#ececec;transform:scaleX(0.8800);-webkit-text-stroke:0.28px;">91</span>
<span class="t" style="left:405.60px;top:534.20px;font-size:12.4px;font-weight:400;color:#c2cff9;-webkit-text-stroke:0.28px;">Administrator</span>
<span class="t" style="left:737.84px;top:532.00px;font-size:11.6px;font-weight:400;color:#ececec;transform:scaleX(0.8800);-webkit-text-stroke:0.28px;">53</span>
<span class="t" style="left:405.60px;top:576.20px;font-size:12.4px;font-weight:400;color:#c2cff9;transform:scaleX(0.9428);-webkit-text-stroke:0.28px;">ian</span>
<span class="t" style="left:737.84px;top:574.00px;font-size:11.6px;font-weight:400;color:#ececec;transform:scaleX(0.8800);-webkit-text-stroke:0.28px;">47</span>
<span class="t" style="left:405.60px;top:618.20px;font-size:12.4px;font-weight:400;color:#c2cff9;transform:scaleX(0.9487);-webkit-text-stroke:0.28px;">WSAMZN-5JO0NR0C$</span>
<span class="t" style="left:737.84px;top:616.00px;font-size:11.6px;font-weight:400;color:#ececec;transform:scaleX(0.8800);-webkit-text-stroke:0.28px;">16</span>
<span class="t" style="left:402.40px;top:655.20px;font-size:15.6px;font-weight:400;color:#cdcdcd;-webkit-text-stroke:0.28px;">Total</span>
<span class="t" style="left:727.79px;top:655.20px;font-size:15.8px;font-weight:400;color:#ececec;transform:scaleX(0.9300);-webkit-text-stroke:0.55px;">256</span>
<span class="t" style="left:659.90px;top:692.00px;font-size:9.2px;font-weight:400;color:#c4c4c4;transform:scaleX(0.9266);-webkit-text-stroke:0.2px;">Last refreshed: 12:12:00</span>
<span class="t" style="left:783.70px;top:450.30px;font-size:16px;font-weight:700;color:#e9e9e9;transform:scaleX(0.8799);">Least used applications</span>
<span class="t" style="left:783.70px;top:482.10px;font-size:12.2px;font-weight:400;color:#a6a6aa;transform:scaleX(0.9624);-webkit-text-stroke:0.28px;">Last 7 days</span>
<span class="t" style="left:787.00px;top:519.90px;font-size:12.4px;font-weight:400;color:#c2cff9;transform:scaleX(0.9531);-webkit-text-stroke:0.28px;">7-zip</span>
<span class="t" style="left:1124.92px;top:517.00px;font-size:11.6px;font-weight:400;color:#ececec;transform:scaleX(0.8800);-webkit-text-stroke:0.28px;">1</span>
<span class="t" style="left:787.00px;top:561.90px;font-size:12.4px;font-weight:400;color:#c2cff9;transform:scaleX(0.9483);-webkit-text-stroke:0.28px;">ARDAgent.app</span>
<span class="t" style="left:1124.92px;top:559.00px;font-size:11.6px;font-weight:400;color:#ececec;transform:scaleX(0.8800);-webkit-text-stroke:0.28px;">1</span>
<span class="t" style="left:787.00px;top:603.90px;font-size:12.4px;font-weight:400;color:#c2cff9;transform:scaleX(0.8951);-webkit-text-stroke:0.28px;">AWS WSP</span>
<span class="t" style="left:1124.92px;top:601.00px;font-size:11.6px;font-weight:400;color:#ececec;transform:scaleX(0.8800);-webkit-text-stroke:0.28px;">1</span>
<span class="t" style="left:783.80px;top:655.20px;font-size:15.6px;font-weight:400;color:#cdcdcd;-webkit-text-stroke:0.28px;">Total</span>
<span class="t" style="left:1117.35px;top:655.20px;font-size:15.8px;font-weight:400;color:#ececec;transform:scaleX(0.9300);-webkit-text-stroke:0.55px;">10</span>
<span class="t" style="left:1043.80px;top:692.00px;font-size:9.2px;font-weight:400;color:#c4c4c4;transform:scaleX(0.9078);-webkit-text-stroke:0.2px;">Last refreshed: 12:11:59</span>
<span class="t" style="left:1165.00px;top:450.30px;font-size:16px;font-weight:700;color:#e9e9e9;transform:scaleX(0.8914);">Applications by category</span>
<span class="t" style="left:1327.10px;top:534.40px;font-size:17.6px;font-weight:400;color:#dcdcdc;transform:scaleX(0.8924);-webkit-text-stroke:.55px #26262b;">108</span>
<span class="t" style="left:1238.20px;top:620.00px;font-size:12.3px;font-weight:400;color:#bcbcc0;transform:scaleX(1.0091);-webkit-text-stroke:0.28px;">Office productivity</span>
<span class="t" style="left:1378.50px;top:620.00px;font-size:12.3px;font-weight:400;color:#bcbcc0;transform:scaleX(0.9545);-webkit-text-stroke:0.28px;">IT management</span>
<span class="t" style="left:1283.60px;top:653.00px;font-size:12.3px;font-weight:400;color:#bcbcc0;transform:scaleX(0.9866);-webkit-text-stroke:0.28px;">Application development</span>
<span class="t" style="left:1459.00px;top:653.00px;font-size:12.3px;font-weight:400;color:#c4c4c8;transform:scaleX(0.9494);-webkit-text-stroke:0.28px;">+ 6 more</span>
<span class="t" style="left:1425.30px;top:692.00px;font-size:9.2px;font-weight:400;color:#c4c4c4;transform:scaleX(0.9078);-webkit-text-stroke:0.2px;">Last refreshed: 12:11:59</span>
<span class="t" style="left:20.90px;top:733.60px;font-size:16px;font-weight:700;color:#e9e9e9;transform:scaleX(0.8859);">Most installed vendors</span>
<span class="t" style="left:24.10px;top:776.40px;font-size:12.4px;font-weight:400;color:#c2cff9;transform:scaleX(0.9457);-webkit-text-stroke:0.28px;">Amazon</span>
<span class="t" style="left:345.75px;top:774.30px;font-size:11.6px;font-weight:400;color:#ececec;transform:scaleX(0.8800);-webkit-text-stroke:0.28px;">2711</span>
<span class="t" style="left:24.10px;top:818.40px;font-size:12.4px;font-weight:400;color:#c2cff9;transform:scaleX(0.9357);-webkit-text-stroke:0.28px;">Google</span>
<span class="t" style="left:345.00px;top:816.30px;font-size:11.6px;font-weight:400;color:#ececec;transform:scaleX(0.8800);-webkit-text-stroke:0.28px;">2530</span>
<span class="t" style="left:402.20px;top:733.60px;font-size:16px;font-weight:700;color:#e9e9e9;transform:scaleX(0.8915);">Total applications</span>
<span class="t" style="left:402.00px;top:779.40px;font-size:45.6px;font-weight:400;color:#e0e0e0;transform:scaleX(0.9903);-webkit-text-stroke:1.45px #26262b;">7,159</span>
<span class="t" style="left:662.40px;top:834.00px;font-size:9.2px;font-weight:400;color:#c4c4c4;transform:scaleX(0.9078);-webkit-text-stroke:0.2px;">Last refreshed: 12:11:59</span>
<span class="t" style="left:783.90px;top:733.60px;font-size:16px;font-weight:700;color:#e9e9e9;transform:scaleX(0.8826);">Installed applications</span>
<span class="t" style="left:784.00px;top:779.40px;font-size:45.6px;font-weight:400;color:#e0e0e0;transform:scaleX(0.9728);-webkit-text-stroke:1.45px #26262b;">6,885</span>
<span class="t" style="left:1043.80px;top:834.00px;font-size:9.2px;font-weight:400;color:#c4c4c4;transform:scaleX(0.9078);-webkit-text-stroke:0.2px;">Last refreshed: 12:11:59</span>
<span class="t" style="left:1165.30px;top:733.60px;font-size:16px;font-weight:700;color:#e9e9e9;transform:scaleX(0.8903);">Applications by platform</span>
<span class="t" style="left:1322.50px;top:835.80px;font-size:15.5px;font-weight:400;color:#dcdcdc;transform:scaleX(0.9021);-webkit-text-stroke:.45px #26262b;">7,160</span>
<span class="t" style="left:1512.20px;top:834.30px;font-size:9.8px;font-weight:700;color:#161616;transform:scaleX(1.0869);">Notes</span>
<span class="t" style="left:1512.20px;top:846.00px;font-size:9.8px;font-weight:700;color:#161616;transform:scaleX(1.0789);">1/4/24</span>
</div></body></html>
